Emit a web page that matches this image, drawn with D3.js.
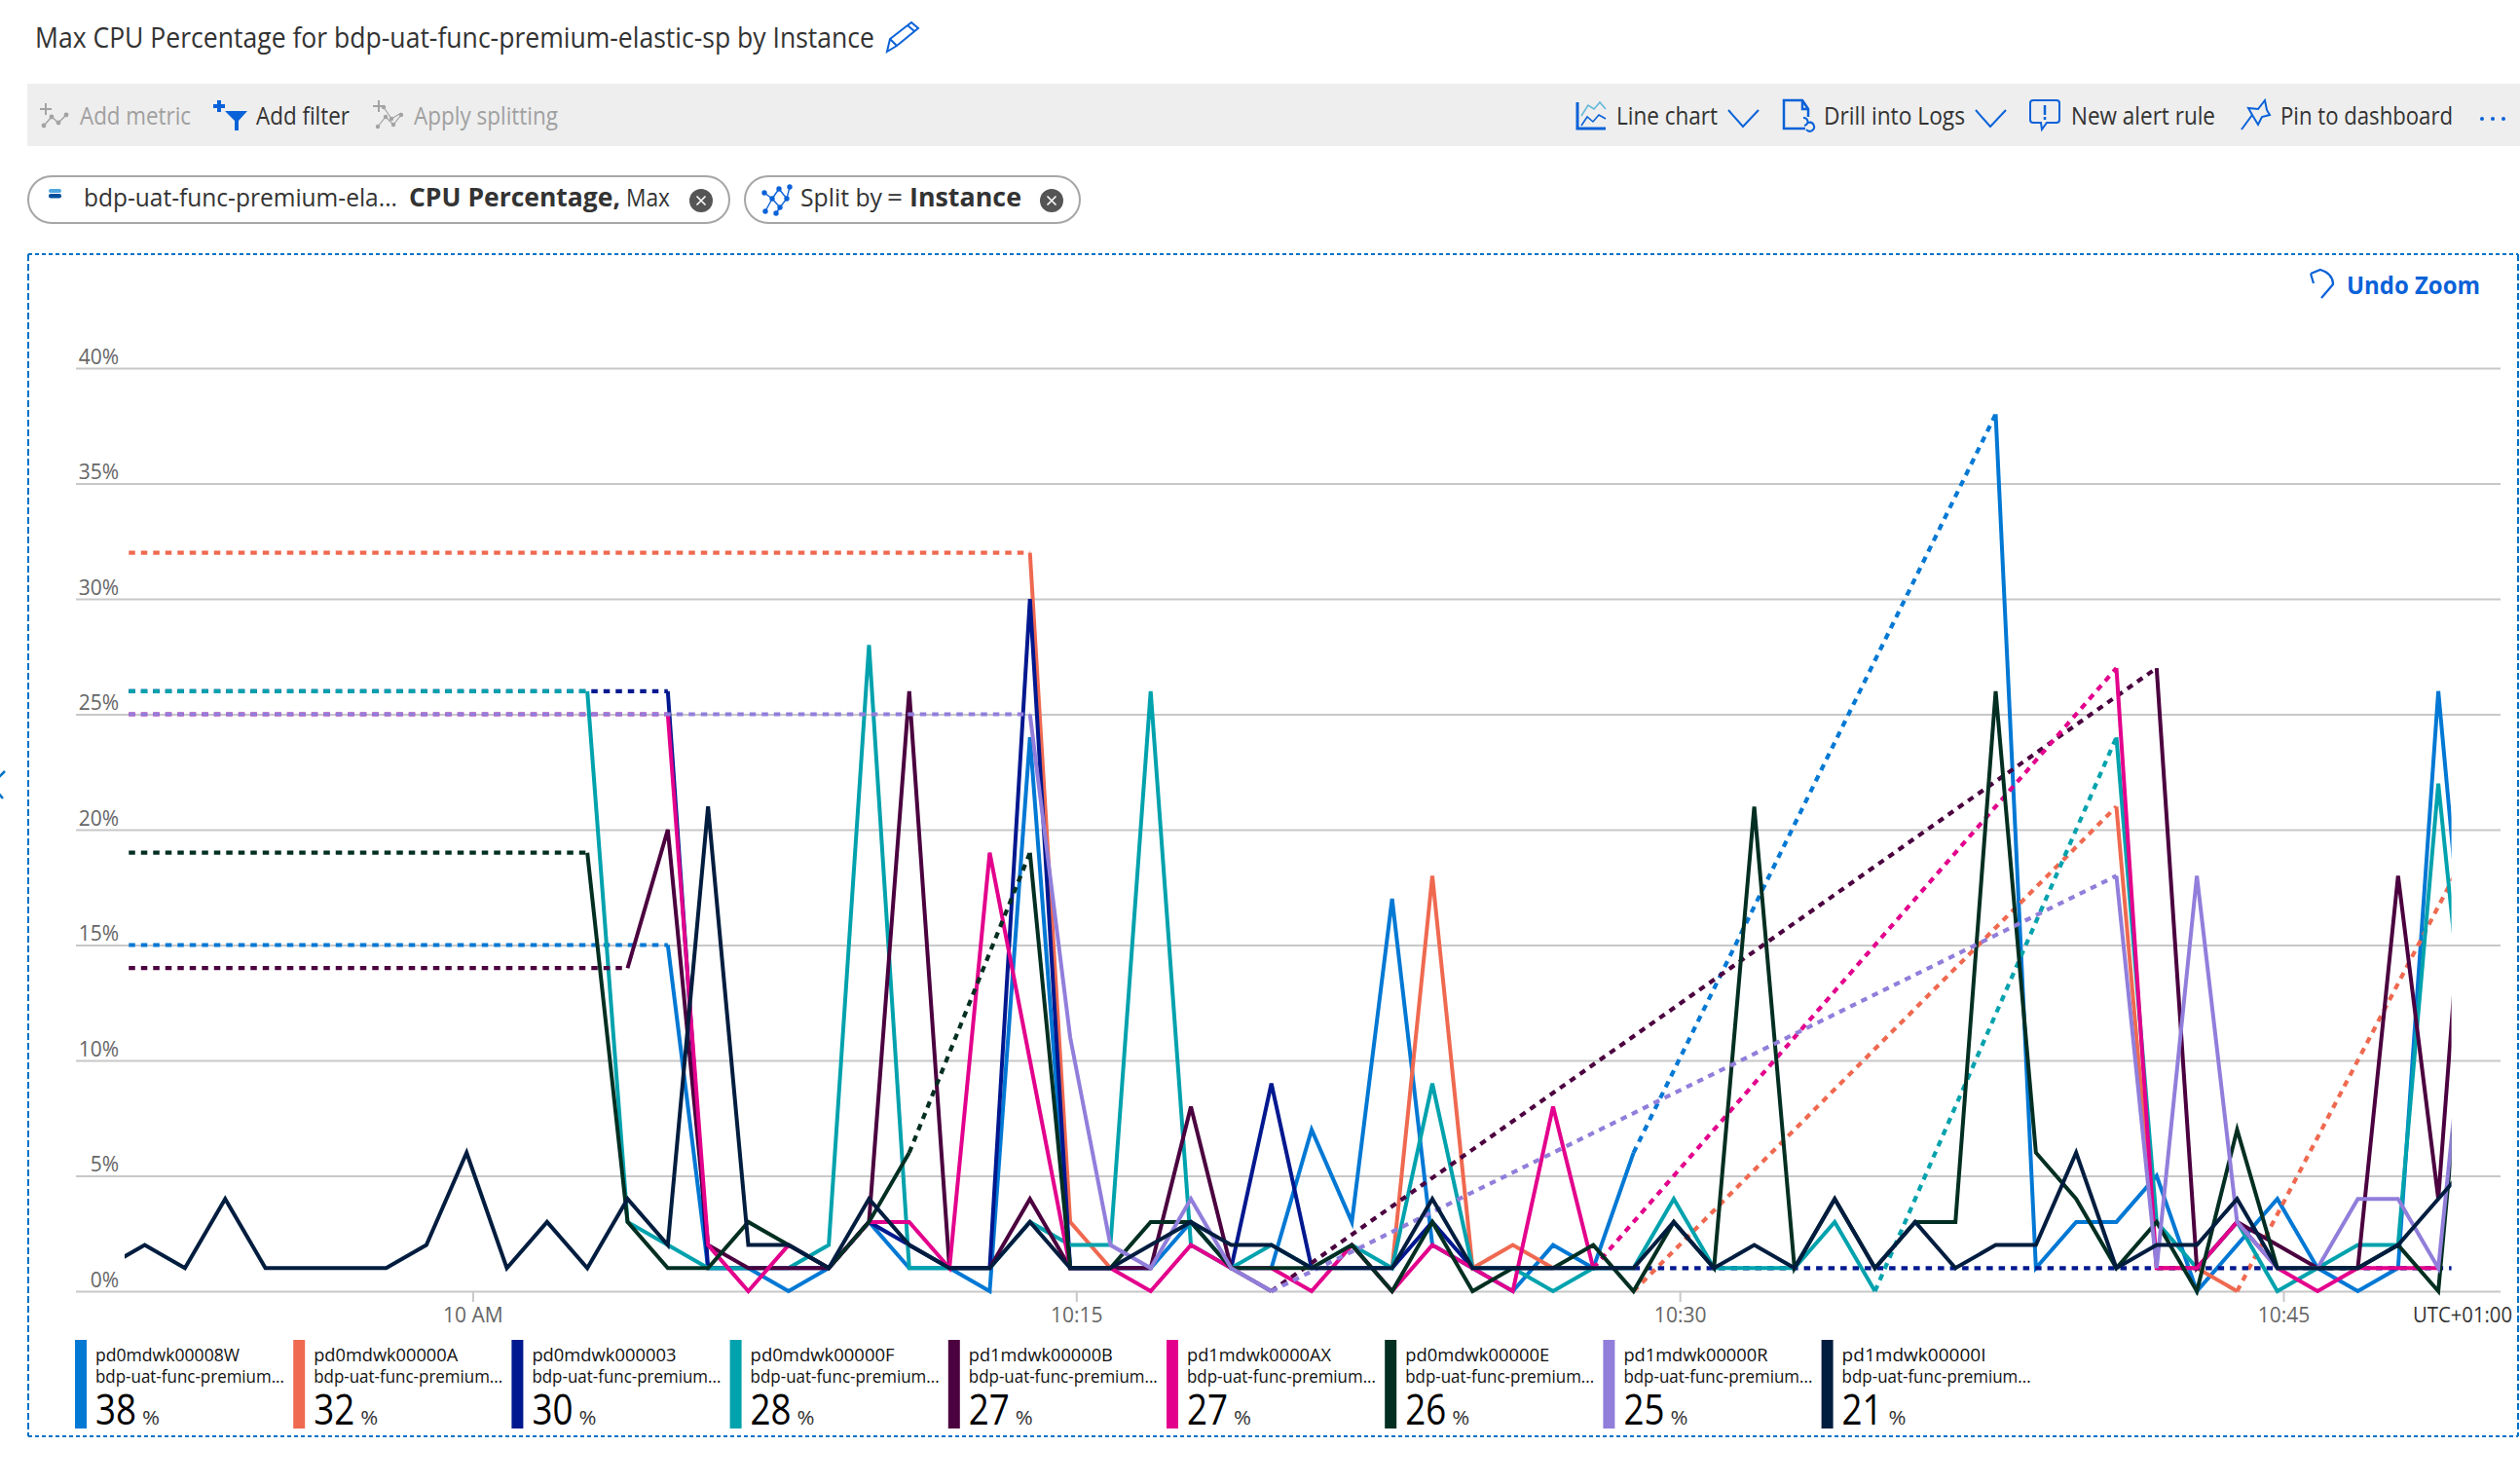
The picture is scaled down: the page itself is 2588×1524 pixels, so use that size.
<!DOCTYPE html>
<html><head><meta charset="utf-8">
<script src="https://cdn.jsdelivr.net/npm/d3@7"></script>
<style>html,body{margin:0;padding:0;background:#fff;overflow:hidden}svg{display:block}text{font-family:"Open Sans","Noto Sans",sans-serif}</style>
</head><body>
<script>
const _ = null;
const chartTitle = "Max CPU Percentage for bdp-uat-func-premium-elastic-sp by Instance";
const yTicks = [0,5,10,15,20,25,30,35,40];
const xTickLabels = ["10 AM","10:15","10:30","10:45"];
const instances = ["pd0mdwk00008W","pd0mdwk00000A","pd0mdwk000003","pd0mdwk00000F","pd1mdwk00000B","pd1mdwk0000AX","pd0mdwk00000E","pd1mdwk00000R","pd1mdwk00000I"];
const maxima = [38,32,30,28,27,27,26,25,21];
const colors = ["#0078d4","#ef6950","#00188f","#00a2ad","#4b003f","#e3008c","#022f22","#917edb","#001d3f"];
// one value per minute, from 9:51 to 10:50
const sW = [15,_,_,_,_,_,_,_,_,_,_,_,_,_,15,1,1,0,1,3,1,1,0,24,1,1,1,3,1,1,7,3,17,2,1,0,2,1,6,_,_,_,_,_,_,_,_,38,1,3,3,5,0,2,4,1,0,1,26,7];
const sA = [32,_,_,_,_,_,_,_,_,_,_,_,_,_,_,_,_,_,_,_,_,_,_,32,3,1,_,_,_,_,_,_,1,18,1,2,1,_,0,_,_,_,_,_,_,_,_,_,_,_,21,1,1,0,_,_,_,_,_,20];
const s3 = [26,_,_,_,_,_,_,_,_,_,_,_,_,_,26,1,1,1,1,3,2,1,1,30,1,1,1,_,1,9,1,1,1,3,1,1,1,1,1,_,_,_,_,_,_,_,_,_,_,_,_,_,_,_,_,_,_,_,_,1];
const sF = [26,_,_,_,_,_,_,_,_,_,_,_,26,3,2,1,1,1,2,28,1,1,1,3,2,2,26,2,1,2,1,2,1,9,1,1,0,1,1,4,1,1,1,3,0,_,_,_,_,_,24,3,1,3,0,1,2,2,22,5];
const sB = [14,_,_,_,_,_,_,_,_,_,_,_,_,14,20,2,1,1,1,3,26,1,1,4,1,1,1,8,1,0,_,_,_,_,_,_,_,_,_,_,_,_,_,_,_,_,_,_,_,_,_,27,1,3,2,1,1,18,4,27];
const sX = [25,_,_,_,_,_,_,_,_,_,_,_,_,_,25,2,0,2,1,3,3,1,19,10,1,1,0,2,1,1,0,2,0,2,1,0,8,1,_,_,_,_,_,_,_,_,_,_,_,_,27,1,1,3,1,0,1,1,1,_];
const sE = [19,_,_,_,_,_,_,_,_,_,_,_,19,3,1,1,3,2,1,3,6,_,_,19,1,1,3,3,1,1,1,2,0,3,0,1,1,2,0,3,1,21,1,4,1,3,3,26,6,4,1,3,0,7,1,1,1,2,0,19];
const sR = [25,_,_,_,_,_,_,_,_,_,_,_,_,_,_,_,_,_,_,_,_,_,_,25,11,2,1,4,1,0,_,_,_,_,_,_,_,_,_,_,_,_,_,_,_,_,_,_,_,_,18,1,18,3,1,1,4,4,1,18];
const sI = [1,2,1,4,1,1,1,1,2,6,1,3,1,4,2,21,2,2,1,4,2,1,1,3,1,1,2,3,2,2,1,1,1,4,1,1,1,1,1,3,1,2,1,4,1,3,1,2,2,6,1,2,2,4,1,1,1,2,4,6];
const series = [sW,sA,s3,sF,sB,sX,sE,sR,sI];
// spans (first and last minute index) bridged by a dotted line
const bridges = [[[0,14],[38,47]],[[0,23],[38,50],[53,59]],[[0,14],[38,59]],[[0,12],[44,50]],[[0,13],[29,51]],[[0,14],[37,50]],[[0,12],[20,23]],[[0,23],[29,50]],[]];

const t0 = new Date(2023,0,1,10,0,0);
const times = sI.map((d,i)=> new Date(2023,0,1,9,51+i,-9));
const x = d3.scaleTime().domain([t0,new Date(2023,0,1,10,45,0)]).range([485.4,2345]);
const y = d3.scaleLinear().domain([0,40]).range([1326,378]);

const svg = d3.select("body").append("svg").attr("width",2588).attr("height",1524).attr("viewBox","0 0 2588 1524");
function txt(s,xp,yp,size,w,fill,weight,par){
  const t=(par||svg).append("text").attr("x",xp).attr("y",yp).attr("font-size",size).attr("fill",fill||"#333").text(s);
  if(weight)t.attr("font-weight",weight);
  if(w)t.attr("textLength",w).attr("lengthAdjust","spacingAndGlyphs");
  return t;
}
const blue="#0a62d8";
function ico(d,stroke,sw,fill){return svg.append("path").attr("d",d).attr("fill",fill||"none").attr("stroke",stroke||"none").attr("stroke-width",sw||2);}
function dots(pts,c,r){pts.forEach(p=>svg.append("circle").attr("cx",p[0]).attr("cy",p[1]).attr("r",r).attr("fill",c));}

// title
txt(chartTitle,36,49,29,862,"#333");
ico("M911 53 L914 40 L936 23 L943 29 L921 47 Z M914 40 L921 47 M932 26 L939 32",blue,2);

// toolbar
svg.append("rect").attr("x",28).attr("y",86).attr("width",2560).attr("height",64).attr("fill","#eeeeee");
const grey="#a3a3a3";
txt("Add metric",82,128,25,114,"#a0a0a0");
ico("M47 106 V118 M41 112 H53",grey,2);
ico("M45 129 L53 120 L60 126 L68 118",grey,1.5);dots([[45,129],[53,120],[60,126],[68,118]],grey,2.4);
txt("Add filter",263,128,25,96,"#333");
ico("M225 103 V115 M219 109 H231",blue,4);
ico("M231 114 H254 L245 124 V134 H241 V124 Z",null,0,blue);
txt("Apply splitting",425,128,25,148,"#a0a0a0");
ico("M389 103 V115 M383 109 H395",grey,2);
ico("M388 130 L396 120 L404 128 L412 118 M394 110 L402 122 L412 116",grey,1.2);
dots([[388,130],[396,120],[404,128],[412,118],[394,110],[402,122]],grey,2.2);

txt("Line chart",1660,128,25,104,"#333");
ico("M1620 105 V132 H1649",blue,3);
ico("M1624 119 L1631 108 L1637 112 L1643 105 L1649 112","#62b8d8",1.6);
ico("M1624 129 L1630 120 L1636 125 L1642 118 L1649 122",blue,1.6);
ico("M1775 113 L1790 130 L1806 113",blue,2);
txt("Drill into Logs",1873,128,25,145,"#333");
ico("M1854 132 H1832 V103 H1851 L1857 112 V120 M1851 103 V112 H1857",blue,2.5);
ico("M1852 121 a4 4 0 1 1 1 8 M1857 126 a4.5 4.5 0 1 1 -2 7",blue,2);
ico("M2029 113 L2044 130 L2060 113",blue,2);
txt("New alert rule",2127,128,25,148,"#333");
ico("M2088 103 H2112 Q2115 103 2115 106 V123 Q2115 126 2112 126 H2102 L2097 133 L2096 126 H2088 Q2085 126 2085 123 V106 Q2085 103 2088 103 Z",blue,2);
ico("M2100 108 V118 M2100 120 V123",blue,2.5);
txt("Pin to dashboard",2342,128,25,177,"#333");
ico("M2302 133 L2313 118 L2309 111 L2319 112 L2326 103 L2328 113 L2331 118 L2323 120 L2319 128 L2313 118",blue,2);
dots([[2549,122],[2560,122],[2571,122]],blue,2);

// filter pills
function pill(a,b){svg.append("rect").attr("x",a).attr("y",181).attr("width",b-a).attr("height",48).attr("rx",24).attr("fill","#fff").attr("stroke","#a6a6a6").attr("stroke-width",2);}
function closer(cx){svg.append("circle").attr("cx",cx).attr("cy",206).attr("r",12).attr("fill","#555");
  ico(`M${cx-4.5} 201.5 L${cx+4.5} 210.5 M${cx+4.5} 201.5 L${cx-4.5} 210.5`,"#fff",1.6);}
pill(29,749);pill(765,1109);
svg.append("rect").attr("x",50).attr("y",194).attr("width",13).attr("height",4).attr("rx",2).attr("fill","#50a6e0");
svg.append("rect").attr("x",50).attr("y",199).attr("width",13).attr("height",4.5).attr("rx",2).attr("fill","#004f9e");
txt("bdp-uat-func-premium-ela...",86,212,26,322,"#333");
txt("CPU Percentage,",420,212,26,217,"#333","700");
txt("Max",643,212,26,45,"#333");
closer(720);
ico("M786 217 L793 204 L785 198 M793 204 L801 213 L808 204 L811 192 M808 204 L800 194 L793 204 M801 213 L797 219",blue,1.4);
dots([[786,217],[793,204],[785,198],[801,213],[808,204],[811,192],[800,194],[797,219]],blue,2.7);
txt("Split by",822,212,26,84,"#333");
txt("=",911,212,26,16,"#333");
txt("Instance",934,212,26,115,"#333","700");
closer(1080);

// chart frame
const frameBlue="#0072c6";
svg.append("line").attr("x1",29).attr("x2",2586).attr("y1",261).attr("y2",261).attr("stroke",frameBlue).attr("stroke-width",2).attr("stroke-dasharray","4 3");
svg.append("line").attr("x1",29).attr("x2",2586).attr("y1",1475).attr("y2",1475).attr("stroke",frameBlue).attr("stroke-width",2).attr("stroke-dasharray","4 3");
svg.append("line").attr("x1",29).attr("x2",29).attr("y1",261).attr("y2",1475).attr("stroke",frameBlue).attr("stroke-width",2).attr("stroke-dasharray","7 3");
svg.append("line").attr("x1",2586).attr("x2",2586).attr("y1",261).attr("y2",1475).attr("stroke",frameBlue).attr("stroke-width",2).attr("stroke-dasharray","7 3");
ico("M5 792 L-9 806 L3 820",frameBlue,2.5);

// undo zoom
ico("M2373 281 L2383 277 Q2396 281 2396 292 L2384 306 M2373 281 L2376 291",blue,2.2);
txt("Undo Zoom",2410,302,25,137,blue,"700");

// axes
const yAxis = d3.axisLeft(y).tickValues(yTicks).tickFormat(d=>d+"%").tickSize(-(2568-78));
const gy = svg.append("g").attr("transform","translate(78,0)").call(yAxis);
gy.select(".domain").remove();
gy.selectAll(".tick line").attr("stroke","#c8c8c8").attr("stroke-width",2);
gy.selectAll(".tick text").attr("x",44).attr("dy","-5").attr("font-size",21).attr("fill","#666").attr("text-anchor","end");
gy.attr("font-family",null);

const xTicks = xTickLabels.map((d,i)=>new Date(2023,0,1,10,15*i,0));
const xAxis = d3.axisBottom(x).tickValues(xTicks).tickFormat((d,i)=>xTickLabels[i]).tickSize(11);
const gx = svg.append("g").attr("transform","translate(0,1326)").call(xAxis);
gx.select(".domain").remove();gx.attr("font-family",null);
gx.selectAll(".tick line").attr("stroke","#c8c8c8").attr("stroke-width",2);
gx.selectAll(".tick text").attr("y",32).attr("dy",0).attr("font-size",21).attr("fill","#666");
txt("UTC+01:00",2478,1358,21,102,"#333");

// series
svg.append("clipPath").attr("id","plot").append("rect").attr("x",128).attr("y",300).attr("width",2389.6).attr("height",1060);
const plot = svg.append("g").attr("clip-path","url(#plot)");
const line = d3.line().defined(d=>d.v!==null).x(d=>x(d.t)).y(d=>y(d.v));
series.forEach((vals,s)=>{
  const pts = vals.map((v,i)=>({t:times[i],v}));
  plot.append("path").attr("d",line(pts)).attr("fill","none").attr("stroke",colors[s]).attr("stroke-width",4).attr("stroke-linejoin","miter");
  bridges[s].forEach(b=>{
    plot.append("path").attr("d",line([pts[b[0]],pts[b[1]]])).attr("fill","none").attr("stroke",colors[s]).attr("stroke-width",4.2).attr("stroke-dasharray","6.5 6");
  });
});

// legend
const lx = d3.scaleLinear().domain([0,1]).range([77,301.2]);
instances.forEach((n,i)=>{
  const a=lx(i);
  svg.append("rect").attr("x",a).attr("y",1376).attr("width",12).attr("height",91).attr("fill",colors[i]);
  txt(n,a+21,1398,19,148,"#111");
  txt("bdp-uat-func-premium...",a+21,1420,19,194,"#111");
  txt(String(maxima[i]),a+21,1463,44,42,"#000");
  txt("%",a+69,1463,20,18,"#333");
});
</script>
</body></html>
